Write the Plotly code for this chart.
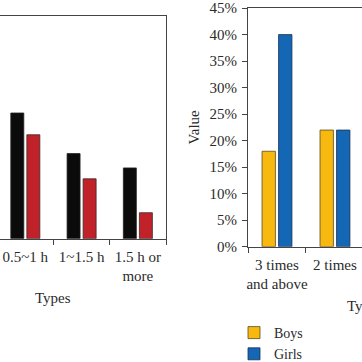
import plotly.graph_objects as go

# Left panel (duration) - first category lies outside the visible crop
dur_categories = ["Within 0.5 h", "0.5~1 h", "1~1.5 h", "1.5 h or<br>more"]
dur_visible = ["0.5~1 h", "1~1.5 h", "1.5 h or<br>more"]
dur_series_a = [0.254, 0.172, 0.143]
dur_series_b = [0.210, 0.121, 0.0525]

# Right panel (frequency) - last categories lie outside the visible crop
freq_categories = ["3 times<br>and above", "2 times", "1 time", "0 times"]
freq_visible = ["3 times<br>and above", "2 times"]
boys = [0.18, 0.22]
girls = [0.40, 0.22]

FONT = "Liberation Serif, Times New Roman, serif"
TXT = "#2b2b2b"
LINE = "#444444"

fig = go.Figure()
fig.add_trace(go.Bar(x=dur_visible, y=dur_series_a, xaxis="x", yaxis="y",
                     marker=dict(color="#0b0b0b", line=dict(color="#222", width=0.8)),
                     showlegend=False, name="A"))
fig.add_trace(go.Bar(x=dur_visible, y=dur_series_b, xaxis="x", yaxis="y",
                     marker=dict(color="#c1222a", line=dict(color="#3a2a2a", width=0.8)),
                     showlegend=False, name="B"))
fig.add_trace(go.Bar(x=freq_visible, y=boys, xaxis="x2", yaxis="y2", name="Boys",
                     marker=dict(color="#f7b90f", line=dict(color="#5a4a20", width=0.8))))
fig.add_trace(go.Bar(x=freq_visible, y=girls, xaxis="x2", yaxis="y2", name="Girls",
                     marker=dict(color="#1367b4", line=dict(color="#203050", width=0.8))))

W = 362
axis_font = dict(family=FONT, size=15, color=TXT)

fig.update_layout(
    width=W, height=362,
    margin=dict(l=0, r=0, t=0, b=0, autoexpand=False),
    paper_bgcolor="white", plot_bgcolor="white",
    font=axis_font,
    barmode="group", bargap=0.43, bargroupgap=0.19,
    xaxis=dict(domain=[0, 166 / W], anchor="y",
               categoryorder="array", categoryarray=dur_categories,
               range=[0.55, 3.5], tickson="boundaries", tickangle=0, automargin=False,
               ticklabelstandoff=4,
               showline=True, linecolor=LINE, linewidth=1, mirror=True,
               ticks="outside", ticklen=5, tickcolor=LINE,
               showgrid=False, tickfont=axis_font),
    yaxis=dict(domain=[(362 - 238.7) / 362, (362 - 16) / 362], anchor="x",
               range=[0, 0.45], side="right", automargin=False,
               showline=True, linecolor=LINE, linewidth=1,
               showticklabels=False, ticks="", showgrid=False, zeroline=False),
    xaxis2=dict(domain=[248 / W, 1], anchor="y2",
                categoryorder="array", categoryarray=freq_categories,
                range=[-0.5, 1.466], tickson="boundaries", tickangle=0, automargin=False,
                ticklabelstandoff=4,
                showline=True, linecolor=LINE, linewidth=1, mirror=True,
                ticks="outside", ticklen=5, tickcolor=LINE,
                showgrid=False, tickfont=axis_font),
    yaxis2=dict(domain=[(362 - 246.7) / 362, (362 - 8) / 362], anchor="x2",
                range=[0, 0.4502], dtick=0.05, tickformat=".0%", automargin=False,
                ticklabelstandoff=2,
                showline=True, linecolor=LINE, linewidth=1, mirror=True,
                ticks="outside", ticklen=5, tickcolor=LINE,
                showgrid=False, zeroline=False, tickfont=axis_font,
                title=dict(text="Value", font=axis_font, standoff=6)),
    legend=dict(x=234 / W, y=(362 - 317) / 362, xanchor="left", yanchor="top",
                font=dict(family=FONT, size=14, color=TXT),
                bgcolor="rgba(0,0,0,0)", tracegroupgap=0),
    annotations=[
        dict(text="Types", xref="x", yref="paper", x=1.5, y=(362 - 298) / 362,
             showarrow=False, font=axis_font, xanchor="center", yanchor="middle"),
        dict(text="Types", xref="paper", yref="paper", x=365 / W, y=(362 - 306) / 362,
             showarrow=False, font=axis_font, xanchor="center", yanchor="middle"),
    ],
)

fig.write_html("out.html",
               config={"displayModeBar": False},
               post_script="document.body.style.margin='0';document.body.style.overflow='hidden';")
